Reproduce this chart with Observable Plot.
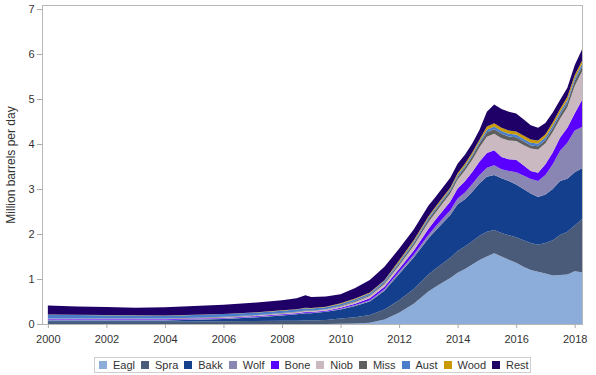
<!DOCTYPE html>
<html>
<head>
<meta charset="utf-8">
<script src="https://cdn.jsdelivr.net/npm/d3@7"></script>
<script src="https://cdn.jsdelivr.net/npm/@observablehq/plot@0.6"></script>
<style>
  body { margin: 0; background: #fff; font-family: "Liberation Sans", Arial, sans-serif; }
  #wrap { position: relative; width: 596px; height: 375px; }
  #legend { position: absolute; left: 94px; top: 357px; width: 437px; height: 16px; box-sizing: border-box;
    border: 1px solid #cfcfcf; display: flex; align-items: center; font-size: 11px; color: #333; padding-left: 4px; }
  .item { display: flex; align-items: center; margin-right: 6px; }
  .sw { width: 8px; height: 8px; margin-right: 6px; }
</style>
</head>
<body>
<div id="wrap"><div id="chart"></div><div id="legend"></div></div>
<script>
const years = [2000,2001,2002,2003,2004,2005,2006,2007,2008,2008.5,2008.8,2009,2009.5,2010,2010.5,2011,2011.5,2012,2012.5,2013,2013.25,2013.5,2013.75,2014,2014.25,2014.5,2014.75,2015,2015.25,2015.5,2015.75,2016,2016.25,2016.5,2016.75,2017,2017.25,2017.5,2017.75,2018,2018.25];

const playNames = ["Eagl","Spra","Bakk","Wolf","Bone","Niob","Miss","Aust","Wood","Rest"];
const playColors = ["#8cadda","#4a5b79","#133f8c","#8a86b4","#5a00ff","#cbb9c1","#5f5f5f","#4a7ecb","#c99a06","#1e0066"];

const eagl = [0,0,0,0,0,0,0,0,0,0,0,0,0,0.005,0.01,0.03,0.1,0.25,0.45,0.72,0.83,0.93,1.02,1.14,1.22,1.32,1.42,1.5,1.57,1.5,1.43,1.36,1.27,1.2,1.16,1.12,1.08,1.09,1.1,1.17,1.15];
const spra = [0.05,0.05,0.05,0.05,0.05,0.055,0.06,0.065,0.07,0.075,0.08,0.08,0.09,0.12,0.14,0.17,0.22,0.28,0.33,0.38,0.4,0.42,0.45,0.48,0.5,0.52,0.54,0.55,0.52,0.52,0.54,0.57,0.59,0.6,0.6,0.68,0.78,0.89,0.95,1.02,1.18];
const bakk = [0.03,0.03,0.03,0.03,0.03,0.04,0.05,0.08,0.12,0.14,0.16,0.16,0.18,0.2,0.25,0.3,0.42,0.58,0.7,0.8,0.85,0.9,0.95,1.04,1.05,1.1,1.17,1.22,1.22,1.22,1.21,1.17,1.14,1.1,1.06,1.08,1.14,1.2,1.18,1.18,1.13];
const wolf = [0.01,0.01,0.01,0.01,0.01,0.01,0.01,0.01,0.01,0.01,0.01,0.01,0.01,0.015,0.02,0.03,0.04,0.05,0.06,0.08,0.09,0.1,0.11,0.13,0.15,0.17,0.18,0.2,0.22,0.2,0.22,0.27,0.3,0.32,0.36,0.43,0.55,0.67,0.8,0.93,0.92];
const bone = [0.015,0.015,0.015,0.015,0.015,0.015,0.015,0.015,0.015,0.015,0.015,0.015,0.015,0.02,0.03,0.04,0.05,0.06,0.09,0.13,0.15,0.17,0.19,0.22,0.25,0.27,0.3,0.33,0.33,0.27,0.26,0.28,0.23,0.18,0.18,0.24,0.26,0.29,0.33,0.38,0.6];
const niob = [0.01,0.01,0.01,0.01,0.01,0.01,0.015,0.015,0.02,0.02,0.025,0.025,0.025,0.03,0.04,0.05,0.06,0.08,0.11,0.15,0.16,0.17,0.18,0.2,0.24,0.27,0.32,0.36,0.37,0.42,0.42,0.42,0.45,0.5,0.52,0.47,0.46,0.42,0.46,0.61,0.63];
const miss = [0.01,0.01,0.01,0.01,0.01,0.01,0.01,0.01,0.01,0.01,0.01,0.01,0.01,0.015,0.02,0.025,0.03,0.04,0.05,0.06,0.06,0.06,0.06,0.06,0.07,0.08,0.09,0.1,0.1,0.1,0.09,0.08,0.08,0.07,0.07,0.07,0.08,0.09,0.1,0.11,0.11];
const aust = [0.08,0.075,0.07,0.065,0.06,0.06,0.06,0.055,0.05,0.05,0.05,0.045,0.045,0.04,0.04,0.04,0.04,0.04,0.04,0.04,0.04,0.04,0.04,0.04,0.04,0.04,0.04,0.06,0.06,0.06,0.06,0.06,0.06,0.06,0.06,0.06,0.06,0.06,0.06,0.06,0.06];
const wood = [0.005,0.005,0.005,0.005,0.005,0.005,0.005,0.005,0.01,0.01,0.01,0.01,0.01,0.015,0.015,0.015,0.015,0.03,0.03,0.03,0.03,0.03,0.03,0.04,0.04,0.04,0.04,0.07,0.07,0.07,0.07,0.07,0.07,0.07,0.07,0.07,0.07,0.07,0.07,0.07,0.07];
const rest = [0.2,0.185,0.18,0.165,0.18,0.195,0.205,0.215,0.225,0.24,0.28,0.245,0.225,0.2,0.235,0.28,0.3,0.26,0.24,0.24,0.22,0.22,0.22,0.21,0.2,0.2,0.22,0.33,0.42,0.42,0.42,0.4,0.36,0.32,0.28,0.25,0.22,0.2,0.2,0.22,0.25];

const xTicks = [2000,2002,2004,2006,2008,2010,2012,2014,2016,2018];
const yTicks = [0,1,2,3,4,5,6,7];

const seriesValues = [eagl, spra, bakk, wolf, bone, niob, miss, aust, wood, rest];
const data = years.flatMap((yr, i) => playNames.map((p, k) => ({year: yr, play: p, value: seriesValues[k][i]})));

const chart = Plot.plot({
  width: 596,
  height: 352,
  marginLeft: 42,
  marginRight: 14,
  marginTop: 5,
  marginBottom: 28,
  style: {fontFamily: "'Liberation Sans', Arial, sans-serif", fontSize: "11px", color: "#333", background: "#fff"},
  x: {domain: [1999.8, 2018.25]},
  y: {domain: [0, 7.09]},
  color: {domain: playNames, range: playColors},
  marks: [
    Plot.areaY(data, {x: "year", y: "value", fill: "play", order: null}),
    Plot.frame({stroke: "#b8b8b8"}),
    Plot.axisX({ticks: xTicks, tickFormat: d => String(d), tickSize: 4, tickPadding: 7, stroke: "#aaa", fill: "#333", label: null}),
    Plot.axisY({ticks: yTicks, tickSize: 5, tickPadding: 3, stroke: "#aaa", fill: "#333", label: "Million barrels per day", labelAnchor: "center", labelArrow: "none", labelOffset: 36})
  ]
});
document.getElementById("chart").appendChild(chart);
d3.select(chart).selectAll("[aria-label='y-axis label'] text").attr("font-size", 12);

const legend = document.getElementById("legend");
playNames.forEach((p, k) => {
  const item = document.createElement("div");
  item.className = "item";
  const sw = document.createElement("span");
  sw.className = "sw";
  sw.style.background = playColors[k];
  const tx = document.createElement("span");
  tx.textContent = p;
  item.appendChild(sw); item.appendChild(tx);
  legend.appendChild(item);
});
</script>
</body>
</html>
